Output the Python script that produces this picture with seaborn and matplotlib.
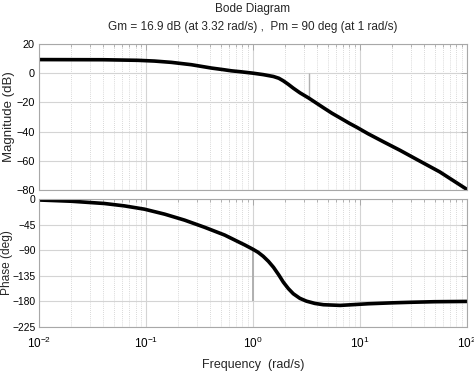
import numpy as np
import pandas as pd
import matplotlib
matplotlib.use("Agg")
import matplotlib.pyplot as plt
import matplotlib.ticker as mticker
import seaborn as sns

# magnitude curve (rad/s, dB)
mag_freq = [0.01, 0.04, 0.084, 0.12, 0.173, 0.266, 0.41, 0.53, 0.63, 0.76, 1.0,
            1.25, 1.56, 1.75, 1.93, 2.15, 2.39, 2.76, 3.32, 4.0, 4.57, 5.5, 6.55,
            8.0, 9.37, 12.0, 17.0, 23.8, 35.0, 56.0, 100.0]
mag_db = [9.4, 9.3, 8.9, 8.4, 7.5, 5.9, 3.6, 2.5, 1.7, 1.1, 0.1,
          -0.9, -2.2, -3.4, -5.2, -7.6, -10.2, -13.4, -16.9, -20.8, -23.6, -27.4, -30.6,
          -34.3, -37.0, -41.5, -47.3, -52.8, -59.5, -67.6, -79.5]

# phase curve (rad/s, deg)
ph_freq = [0.01, 0.02, 0.041, 0.063, 0.097, 0.15, 0.23, 0.355, 0.545, 0.76, 0.84, 1.0,
           1.12, 1.25, 1.4, 1.56, 1.75, 1.93, 2.15, 2.39, 2.75, 3.17, 3.8, 4.57, 6.55,
           9.0, 12.0, 20.0, 30.0, 50.0, 100.0]
ph_deg = [-1.8, -4, -8, -12.2, -18, -26.8, -37.3, -50, -63.6, -77, -81, -88.5,
          -94, -101, -110, -120.4, -134, -146.7, -158, -167, -175, -180, -184, -186.3, -187.5,
          -186, -184.6, -183, -182, -181, -180.5]

gm_freq, gm_db = 3.32, 16.9
pm_freq, pm_deg = 1.0, 90

mag_ticks = [20, 0, -20, -40, -60, -80]
ph_ticks = [0, -45, -90, -135, -180, -225]

title_1 = "Bode Diagram"
title_2 = "Gm = 16.9 dB (at 3.32 rad/s) ,  Pm = 90 deg (at 1 rad/s)"

sns.set_style("white")
plt.rcParams["font.family"] = ["Liberation Sans", "DejaVu Sans"]
plt.rcParams["axes.edgecolor"] = "#a8a8a8"
plt.rcParams["xtick.color"] = "#a8a8a8"
plt.rcParams["ytick.color"] = "#a8a8a8"
plt.rcParams["xtick.labelcolor"] = "black"
plt.rcParams["ytick.labelcolor"] = "black"

mag_df = pd.DataFrame({"freq": mag_freq, "mag": mag_db})
ph_df = pd.DataFrame({"freq": ph_freq, "phase": ph_deg})

fig = plt.figure(figsize=(4.74, 3.74), dpi=100)
ax1 = fig.add_axes([0.0823, 0.492, 0.9023, 0.390])
ax2 = fig.add_axes([0.0823, 0.1265, 0.9023, 0.3415])

sns.lineplot(data=mag_df, x="freq", y="mag", ax=ax1, color="black", lw=2.6, sort=False)
sns.lineplot(data=ph_df, x="freq", y="phase", ax=ax2, color="black", lw=2.6, sort=False)

# margin markers
ax1.vlines(gm_freq, 0, -gm_db, color="#b0b0b0", lw=1.0, zorder=1)
ax2.vlines(pm_freq, -pm_deg, -180, color="#b0b0b0", lw=1.4, zorder=1)

for ax in (ax1, ax2):
    ax.set_xscale("log")
    ax.set_xlim(0.01, 100)
    ax.xaxis.set_major_locator(mticker.LogLocator(base=10, numticks=10))
    ax.xaxis.set_minor_locator(mticker.LogLocator(base=10, subs=np.arange(2, 10), numticks=10))
    ax.grid(True, which="major", color="#d4d4d4", lw=0.8, ls="-")
    ax.grid(True, which="minor", axis="x", color="#cccccc", lw=0.6, ls=(0, (1, 1.5)))
    ax.tick_params(which="both", direction="in", top=True, right=True)
    ax.tick_params(axis="y", labelsize=7.8, pad=3)
    ax.tick_params(axis="x", labelsize=8.5)
    ax.tick_params(which="major", length=4, width=0.7)
    ax.tick_params(which="minor", length=2.5, width=0.6)
    ax.set_axisbelow(True)
    for sp in ax.spines.values():
        sp.set_linewidth(0.8)

ax1.set_ylim(-80, 20)
ax1.set_yticks(mag_ticks)
ax1.tick_params(axis="x", which="both", labelbottom=False)
ax1.set_xlabel("")
ax1.set_ylabel("Magnitude (dB)", fontsize=9.5)
ax1.yaxis.set_label_coords(-0.0561, 0.5)

ax2.set_ylim(-225, 0)
ax2.set_yticks(ph_ticks)
ax2.tick_params(axis="x", pad=6.5)
ax2.tick_params(axis="y", pad=2.5, labelsize=7.4)
ax2.set_ylabel("Phase (deg)", fontsize=8.6)
ax2.yaxis.set_label_coords(-0.0598, 0.5)
ax2.set_xlabel("Frequency  (rad/s)", fontsize=9)
ax2.xaxis.set_label_coords(0.5, -0.25)

fig.text(0.5333, 0.976, title_1, ha="center", va="center", fontsize=8.5)
fig.text(0.5333, 0.929, title_2, ha="center", va="center", fontsize=8.5)

fig.savefig("out.png", dpi=100)
